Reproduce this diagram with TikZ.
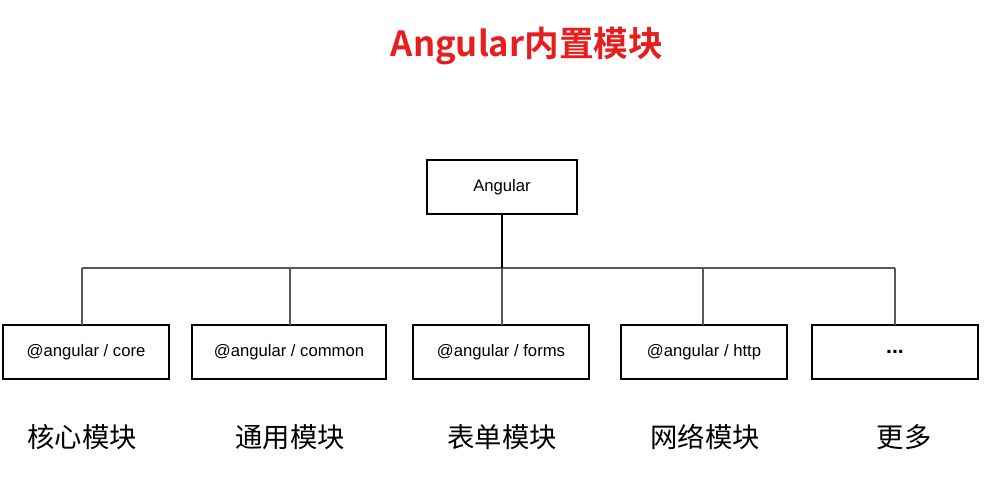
\documentclass[tikz,border=0pt]{standalone}
\usepackage{fontspec}
\setmainfont{Liberation Sans}
\newfontfamily\cjk{Noto Sans CJK SC}[BoldFont={Noto Sans CJK SC Bold}]
\usetikzlibrary{positioning}
\definecolor{titlered}{RGB}{230,30,30}
\tikzstyle{modbox}=[draw, line width=1.4pt, minimum width=125pt, minimum height=41pt, inner sep=0pt, font=\fontsize{12.5}{14}\selectfont]
\tikzstyle{cnlabel}=[font=\cjk\fontsize{20.5}{23}\selectfont]
\tikzstyle{wire}=[draw, gray!70!black, line width=0.8pt]
\begin{document}
\begin{tikzpicture}[x=0.75pt, y=-0.75pt]
\useasboundingbox (0,0) rectangle (988,499);
% title
\node[font=\cjk\bfseries\fontsize{26}{29}\selectfont, text=titlered] (title) at (527,46) {Angular内置模块};
% root
\node[modbox, minimum width=113pt] (root) at (502,187) {Angular};
% the modules
\node[modbox] (core) at (86,352) {@angular / core};
\node[modbox, minimum width=145pt] (common) at (289,352) {@angular / common};
\node[modbox, minimum width=132pt] (forms) at (501,352) {@angular / forms};
\node[modbox] (http) at (704,352) {@angular / http};
\node[modbox, font=\fontsize{16}{18}\selectfont\bfseries] (more) at (895,352) {...};
% labels
\node[cnlabel] (lcore) at (82,437) {核心模块};
\node[cnlabel] (lcommon) at (290,437) {通用模块};
\node[cnlabel] (lforms) at (502,437) {表单模块};
\node[cnlabel] (lhttp) at (705,437) {网络模块};
\node[cnlabel] (lmore) at (904,437) {更多};
% the tree
\coordinate (busl) at (82,268);
\coordinate (busr) at (895,268);
\draw[wire] (busl) -- (busr);
\draw[line width=1.6pt] (root.south) -- (root.south |- busl);
\foreach \m/\x in {core/82, common/290, forms/502, http/703, more/895}
  \draw[wire] (\x,268) -- (\x,325);
\end{tikzpicture}
\end{document}
